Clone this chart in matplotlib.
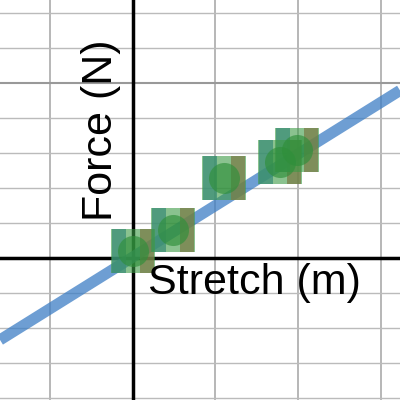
import matplotlib
matplotlib.use("Agg")
import matplotlib.pyplot as plt
import numpy as np

xs = [0.0, 0.48, 1.1, 1.78, 1.99]
ys = [0.2, 0.8, 2.3, 2.74, 3.1]
slope = 1.47
intercept = 0.03

fig = plt.figure(figsize=(4, 4), dpi=100)
ax = fig.add_axes([0, 0, 1, 1])
xmin, xmax = -133/82.5, 267/82.5
ymin, ymax = -142/35, 258/35
ax.set_xlim(xmin, xmax); ax.set_ylim(ymin, ymax)
ax.axis('off')
for gx in range(-2, 5):
    ax.axvline(gx, color='#aaaaaa', lw=1.2, zorder=0)
for gy in range(-5, 9):
    major = gy % 5 == 0
    ax.axhline(gy, color='#999999' if major else '#bbbbbb', lw=1.5 if major else 1, zorder=0)
ax.axhline(0, color='black', lw=2.5, zorder=1)
ax.axvline(0, color='black', lw=2.5, zorder=1)
xl = np.array([xmin, xmax])
ax.plot(xl, slope*xl+intercept, color='#3d7ec5', lw=8, alpha=0.75, solid_capstyle='butt', zorder=2)
rect = [(-0.3, -1), (0.3, -1), (0.3, 1), (-0.3, 1), (-0.3, -1)]
ax.plot(np.array(xs)+0.17, ys, ls='none', marker=rect, ms=32, color='#d9534f', alpha=0.75, mew=0, zorder=3)
ax.plot(np.array(xs)-0.17, ys, ls='none', marker=rect, ms=32, color='#3d7ec5', alpha=0.75, mew=0, zorder=3)
ax.scatter(xs, ys, marker='s', s=1000, color='#3c9a45', alpha=0.6, zorder=4, lw=0)
ax.scatter(xs, ys, marker='o', s=500, color='#2f8f3a', alpha=0.65, zorder=5, lw=0)
ax.text(0.18, -0.15, 'Stretch (m)', fontsize=31, family='Liberation Sans', va='top', ha='left', zorder=6)
ax.text(-0.14, 3.65, 'Force (N)', fontsize=31, family='Liberation Sans', rotation=90, va='center', ha='right', zorder=6)
fig.savefig('out.png', dpi=100)
